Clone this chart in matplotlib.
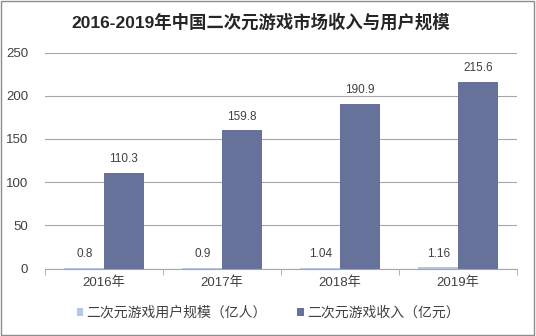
import matplotlib
matplotlib.use('Agg')
from matplotlib import pyplot as plt
import numpy as np
from matplotlib.patches import Rectangle

plt.rcParams['font.family'] = ['Liberation Sans', 'Noto Sans CJK SC', 'DejaVu Sans']

# 数据
years = ['2016年', '2017年', '2018年', '2019年']
users = [0.8, 0.9, 1.04, 1.16]          # 二次元游戏用户规模（亿人）
revenue = [110.3, 159.8, 190.9, 215.6]  # 二次元游戏收入（亿元）
yticks = [0, 50, 100, 150, 200, 250]

c_user = '#b4c7e7'
c_rev = '#66729a'
txt = '#404040'

fig = plt.figure(figsize=(5.36, 3.36), dpi=100)
ax = fig.add_axes([45/536, 1-268.5/336, 472/536, 216/336])

x = np.arange(len(years))
w = 0.335
ax.bar(x - w/2, users, w, color=c_user, label='二次元游戏用户规模（亿人）')
ax.bar(x + w/2, revenue, w, color=c_rev, label='二次元游戏收入（亿元）')

for i in range(len(years)):
    ax.text(x[i] - w/2, users[i] + 9, '%g' % users[i], ha='center', va='bottom',
            fontsize=8.5, color=txt)
    ax.text(x[i] + w/2, revenue[i] + 9, '%g' % revenue[i], ha='center', va='bottom',
            fontsize=8.5, color=txt)

ax.set_xlim(-0.5, len(years) - 0.5)
ax.set_ylim(0, 250)
ax.set_yticks(yticks)
ax.set_yticklabels([str(v) for v in yticks], fontsize=9.5, color=txt)
ax.yaxis.grid(True, color='#a6a6a6', linewidth=0.8)
ax.set_axisbelow(True)
ax.tick_params(axis='y', length=0, pad=12)

ax.set_xticks(x)
ax.set_xticklabels(years, fontsize=9.5, color=txt)
ax.tick_params(axis='x', length=0, pad=6)
# 分类边界刻度
ax.set_xticks(np.arange(len(years) + 1) - 0.5, minor=True)
ax.tick_params(axis='x', which='minor', length=4, color='#a6a6a6', direction='out')

for s in ['top', 'right', 'left']:
    ax.spines[s].set_visible(False)
ax.spines['bottom'].set_color('#a6a6a6')

fig.text(0.487, 1-22/336, '2016-2019年中国二次元游戏市场收入与用户规模', ha='center', va='center',
         fontsize=12.5, fontweight='bold', color='#262626')

leg = fig.legend(loc='center', bbox_to_anchor=(0.5, 1-313/336), ncol=2, frameon=False,
                 fontsize=10, handlelength=0.5, handleheight=0.5, handletextpad=0.2,
                 columnspacing=2.2)
for t in leg.get_texts():
    t.set_color(txt)

# 外边框
fig.patches.append(Rectangle((0.002, 0.003), 0.994, 0.994, transform=fig.transFigure,
                             fill=False, edgecolor='#8c8c8c', linewidth=1))

fig.savefig('out.png', dpi=100)
